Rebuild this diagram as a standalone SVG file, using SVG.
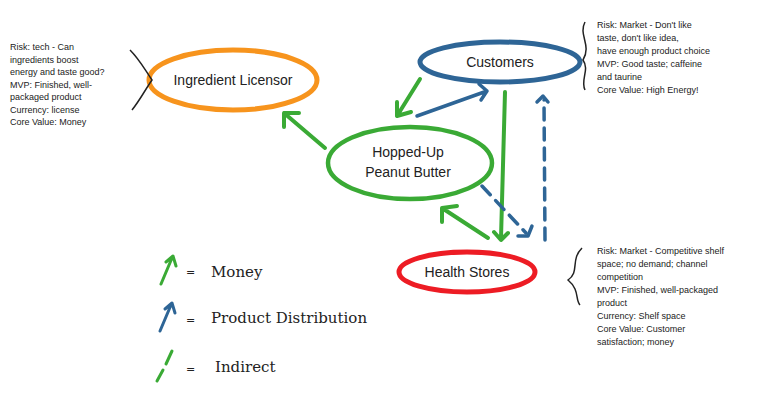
<svg xmlns="http://www.w3.org/2000/svg" width="764" height="402" viewBox="0 0 764 402">
<style>
.t{font-family:"Liberation Sans",Arial,sans-serif;font-size:9px;fill:#222}
.n{font-family:"Liberation Sans",Arial,sans-serif;font-size:14px;fill:#222;text-anchor:middle}
.l{font-family:"DejaVu Serif",serif;font-size:15px;fill:#222}
.g{stroke:#3aaa35;stroke-width:4;fill:none;stroke-linecap:round;stroke-linejoin:round}
.b{stroke:#2e6596;stroke-width:3.5;fill:none;stroke-linecap:round;stroke-linejoin:round}
.d{stroke-dasharray:12 8}
.k{stroke:#222;stroke-width:1.5;fill:none}
</style>
<rect width="764" height="402" fill="#fff"/>
<g id="licensor"><ellipse cx="233" cy="80" rx="84" ry="30" fill="none" stroke="#f7941d" stroke-width="5"/><text class="n" x="233" y="85">Ingredient Licensor</text></g>
<g id="customers"><ellipse cx="500" cy="62" rx="80" ry="20" fill="none" stroke="#2e6596" stroke-width="5"/><text class="n" x="500" y="67">Customers</text></g>
<g id="hopped"><ellipse cx="410" cy="163" rx="82" ry="36" fill="none" stroke="#3aaa35" stroke-width="4.5"/><text class="n" x="408" y="157">Hopped-Up</text><text class="n" x="408" y="177">Peanut Butter</text></g>
<g id="stores"><ellipse cx="467" cy="272" rx="68" ry="20" fill="none" stroke="#ed1c24" stroke-width="5"/><text class="n" x="467" y="277">Health Stores</text></g>
<g id="connectors">
<path class="g" d="M420 79 L397 116 M397 102 L397 116 L411 112"/>
<path class="b" d="M417 116 L487 91 M479 84 L487 91 L481 100"/>
<path class="g" d="M325 148 L284 113 M284 127 L284 113 L299 113"/>
<path class="g" d="M505 92 L501 238 M494 232 L501 240 L508 233"/>
<path class="g" d="M488 238 L442 208 M442 222 L442 208 L457 206"/>
<path class="b d" d="M482 186 L526 233"/><path class="b" d="M518 236 L528 236 L532 226"/>
<path class="b d" d="M545 240 L544 100"/><path class="b" d="M537 102 L543 96 L548 102"/>
<path class="k" d="M130 50 C140 60,145 70,152 80 C145 90,140 100,132 110"/>
<path class="k" d="M585 22 C578 35,592 45,583 60 C590 70,580 80,585 90"/>
<path class="k" d="M582 248 C570 260,580 272,568 280 C580 290,575 300,580 305"/>
</g>
<g id="legend">
<path class="g" style="stroke-width:3" d="M161 284 L172 258 M166 262 L173 256 L176 266"/><text class="l" x="186" y="276" style="font-size:11px">=</text><text class="l" x="211" y="277">Money</text>
<path class="b" style="stroke-width:3" d="M160 331 L171 305 M165 309 L172 303 L175 313"/><text class="l" x="186" y="324" style="font-size:11px">=</text><text class="l" x="211" y="323">Product Distribution</text>
<path class="g" style="stroke-width:3" d="M157 381 L163 370 M166 364 L172 351"/><text class="l" x="186" y="373" style="font-size:11px">=</text><text class="l" x="215" y="372">Indirect</text>
</g>
<g id="notes">
<text class="t" x="10" y="50">Risk: tech - Can</text><text class="t" x="10" y="63">ingredients boost</text><text class="t" x="10" y="75">energy and taste good?</text><text class="t" x="10" y="88">MVP: Finished, well-</text><text class="t" x="10" y="100">packaged product</text><text class="t" x="10" y="113">Currency: license</text><text class="t" x="10" y="125">Core Value: Money</text>
<text class="t" x="597" y="28">Risk: Market - Don't like</text><text class="t" x="597" y="41">taste, don't like idea,</text><text class="t" x="597" y="54">have enough product choice</text><text class="t" x="597" y="67">MVP: Good taste; caffeine</text><text class="t" x="597" y="80">and taurine</text><text class="t" x="597" y="93">Core Value: High Energy!</text>
<text class="t" x="597" y="254">Risk: Market - Competitive shelf</text><text class="t" x="597" y="267">space; no demand; channel</text><text class="t" x="597" y="280">competition</text><text class="t" x="597" y="293">MVP: Finished, well-packaged</text><text class="t" x="597" y="306">product</text><text class="t" x="597" y="319">Currency: Shelf space</text><text class="t" x="597" y="332">Core Value: Customer</text><text class="t" x="597" y="345">satisfaction; money</text>
</g>
</svg>
